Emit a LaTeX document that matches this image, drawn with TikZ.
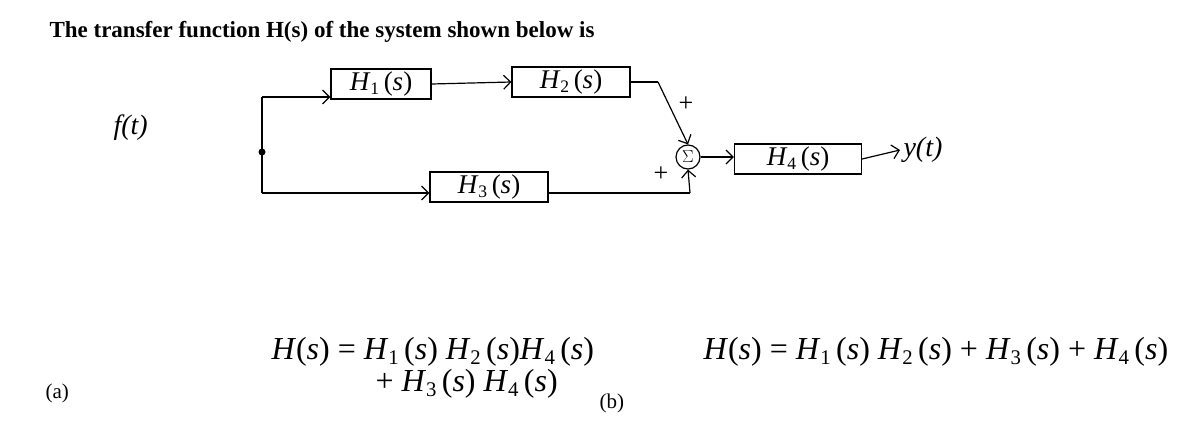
\documentclass[tikz,border=0pt]{standalone}
\usepackage{fontspec}
\setmainfont{Liberation Serif}
\usetikzlibrary{arrows.meta}
\newcommand{\Hx}[1]{\textit{H}\raisebox{-0.3ex}{\fontsize{0.65\dimexpr\fontdimen6\font\relax}{10}\selectfont #1}\,(\textit{s})}
\newcommand{\Hm}{\textit{H}(\textit{s})}
\begin{document}
\begin{tikzpicture}[x=1pt,y=-1pt,
  blk/.style={draw,line width=1.2pt,minimum width=100pt,minimum height=30pt,font=\fontsize{27}{28}\selectfont,inner sep=0pt},
  ln/.style={line width=1.2pt},
  ar/.style={line width=1.2pt,-{Straight Barb[length=7pt]}},
  hw/.style={font=\fontsize{32}{34}\selectfont,anchor=west},
  lab/.style={font=\fontsize{21}{22}\selectfont,anchor=west}]
\useasboundingbox (0,0) rectangle (1204,422);
\node[anchor=west,font=\fontsize{23}{25}\selectfont\bfseries] (title) at (46,32) {The transfer function H(s) of the system shown below is};
\node[hw,font=\fontsize{28}{30}\selectfont\itshape] (f) at (110,128) {f(t)};
\node[blk,minimum width=100pt] (h1) at (381,84) {\Hx{1}};
\node[blk,minimum width=118pt] (h2) at (571,82) {\Hx{2}};
\node[blk,minimum width=118pt] (h3) at (489,187) {\Hx{3}};
\node[blk,minimum width=127pt] (h4) at (798,159) {\Hx{4}};
\node[draw,circle,line width=1.2pt,minimum size=24pt,inner sep=0pt,font=\fontsize{16}{16}\selectfont] (sum) at (688,157) {$\Sigma$};
\node[hw,font=\fontsize{28}{30}\selectfont\itshape] (y) at (900,150) {y(t)};
\fill (262,152) circle (3.5pt) coordinate (j);
\coordinate (ja) at (262,97);
\coordinate (jb) at (262,193);
\coordinate (c1) at (658,82);
\coordinate (c2) at (690,193);
\draw[ln] (ja) -- (jb);
\draw[ar] (ja) -- (h1.west |- ja);
\draw[ar] (h1.east) -- (h2.west);
\draw[ln] (h2.east) -- (c1);
\draw[ar] (c1) -- (sum.north);
\draw[ar] (jb) -- (h3.west |- jb);
\draw[ln] (h3.east |- jb) -- (c2);
\draw[ar] (c2) -- (sum.south);
\draw[ar] (sum.east) -- (h4.west |- sum.east);
\draw[ar] (h4.east) -- (y.west);
\node[font=\fontsize{26}{26}\selectfont] (p1) at (686,104) {+};
\node[font=\fontsize{26}{26}\selectfont] (p2) at (661,174) {+};
\node[hw] (e1) at (268,352) {\Hm{} = \Hx{1} \Hx{2}\Hx{4}};
\node[hw] (e2) at (372,384) {+ \Hx{3} \Hx{4}};
\node[hw] (e3) at (700,352) {\Hm{} = \Hx{1} \Hx{2} + \Hx{3} + \Hx{4}};
\node[lab] (a) at (42,393) {(a)};
\node[lab] (b) at (596,403) {(b)};
\end{tikzpicture}
\end{document}
